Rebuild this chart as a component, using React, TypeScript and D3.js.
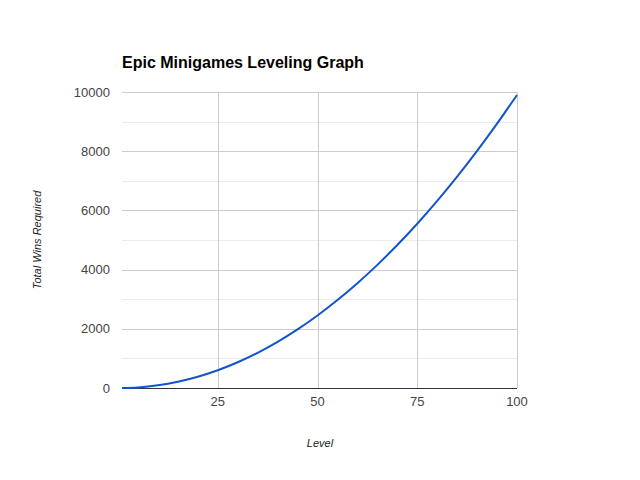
import React from "react";
import * as d3 from "d3";

const levels = [1, 5, 10, 15, 20, 25, 30, 35, 40, 45, 50, 55, 60, 65, 70, 75, 80, 85, 90, 95, 100];
const totalWins = [0, 20, 90, 210, 380, 600, 870, 1190, 1560, 1980, 2450, 2970, 3540, 4160, 4830, 5550, 6320, 7140, 8010, 8930, 9900];
const xTicks = [25, 50, 75, 100];
const yTicks = [0, 2000, 4000, 6000, 8000, 10000];
const yMinorTicks = [1000, 3000, 5000, 7000, 9000];

const W = 640;
const H = 480;
const FONT = "Arial, 'Liberation Sans', sans-serif";

export default function App() {
  const left = 122, right = 517, top = 92, bottom = 388;
  const x = d3.scaleLinear().domain([1, 100]).range([left, right]);
  const y = d3.scaleLinear().domain([0, 10000]).range([bottom, top]);
  const data = levels.map((l, i) => [l, totalWins[i]] as [number, number]);
  const line = d3
    .line<[number, number]>()
    .x((d) => x(d[0]))
    .y((d) => y(d[1]))
    .curve(d3.curveMonotoneX);

  return (
    <svg
      width={W}
      height={H}
      style={{ position: "absolute", left: 0, top: 0, display: "block" }}
      fontFamily={FONT}
    >
      <rect x={0} y={0} width={W} height={H} fill="#ffffff" />
      <text x={122} y={68} fontSize={16} fontWeight="bold" fill="#000">
        Epic Minigames Leveling Graph
      </text>
      {yMinorTicks.map((t) => (
        <line key={"m" + t} x1={left} x2={right} y1={Math.round(y(t)) + 0.5} y2={Math.round(y(t)) + 0.5} stroke="#ebebeb" />
      ))}
      {yTicks.map((t) => (
        <line key={"g" + t} x1={left} x2={right} y1={Math.round(y(t)) + 0.5} y2={Math.round(y(t)) + 0.5} stroke="#cccccc" />
      ))}
      {xTicks.map((t) => (
        <line key={"v" + t} x1={Math.round(x(t)) + 0.5} x2={Math.round(x(t)) + 0.5} y1={top} y2={bottom} stroke="#cccccc" />
      ))}
      <line x1={left} x2={right} y1={bottom + 0.5} y2={bottom + 0.5} stroke="#333333" />
      <path d={line(data) || ""} fill="none" stroke="#1155cc" strokeWidth={2} />
      {yTicks.map((t) => (
        <text key={"yl" + t} x={110} y={y(t) + 4.5} fontSize={13} fill="#444" textAnchor="end">
          {t}
        </text>
      ))}
      {xTicks.map((t) => (
        <text key={"xl" + t} x={x(t)} y={406} fontSize={13} fill="#444" textAnchor="middle">
          {t}
        </text>
      ))}
      <text x={320} y={447} fontSize={11} fontStyle="italic" fill="#222" textAnchor="middle">
        Level
      </text>
      <text
        transform={`translate(41,240) rotate(-90)`}
        fontSize={11}
        fontStyle="italic"
        fill="#222"
        textAnchor="middle"
      >
        Total Wins Required
      </text>
    </svg>
  );
}
